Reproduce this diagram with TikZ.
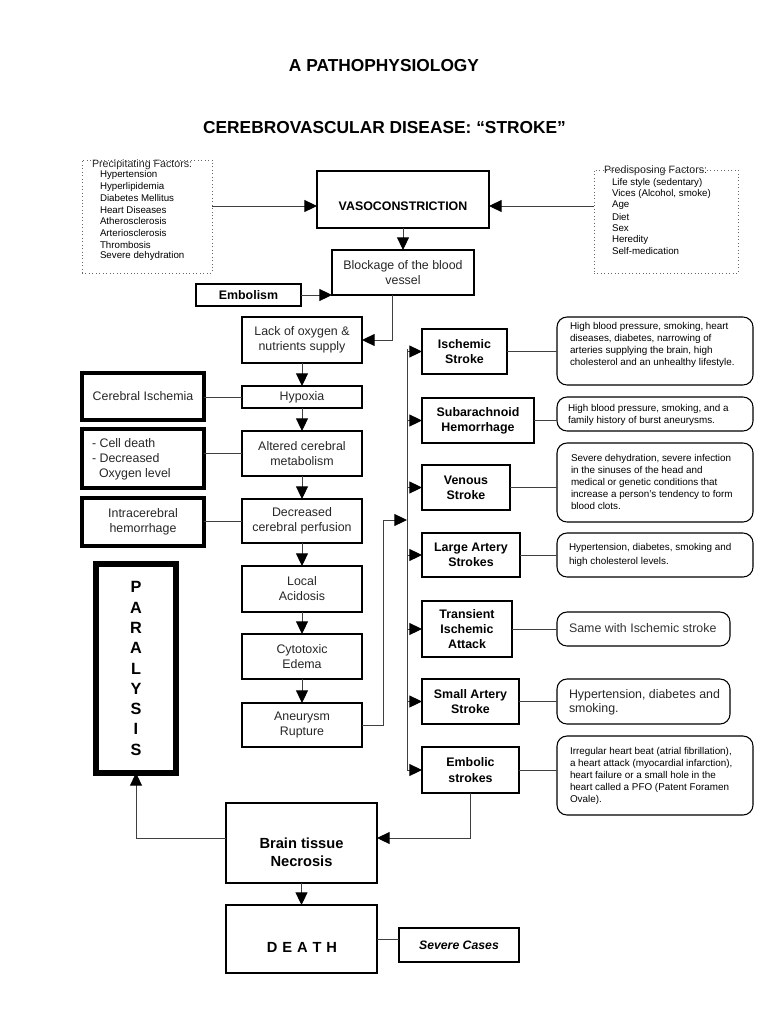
\documentclass[tikz,border=0pt]{standalone}
\usepackage{fontspec}
\setmainfont{Liberation Sans}
\usetikzlibrary{arrows.meta}
\newcommand{\ftitle}{\fontsize{13}{15}\bfseries\selectfont}
\newcommand{\fmainx}{\fontsize{9.3}{11.2}\selectfont}
\newcommand{\fboldx}{\fontsize{9.3}{11.4}\bfseries\selectfont}
\newcommand{\fsmallx}{\fontsize{7.4}{9}\selectfont}
\newcommand{\flistx}{\fontsize{7.3}{8.7}\selectfont}
\newcommand{\flisthx}{\fontsize{8}{9}\selectfont}
\begin{document}
\begin{tikzpicture}[x=0.75pt,y=-0.75pt,
  every node/.style={inner sep=0pt, outer sep=0pt},
  sz/.style 2 args={minimum width=#1*0.75pt, minimum height=#2*0.75pt},
  title/.style={font=\ftitle},
  mbox/.style={draw=black, line width=0.8pt, align=center, font=\fmainx, text=black!85},
  sbox/.style={draw=black, line width=1pt, align=center, font=\fboldx},
  thick box/.style={draw=black, line width=2.3pt, align=center, font=\fmainx, text=black!85},
  heavy box/.style={draw=black, line width=1.9pt, align=center, font=\fboldx},
  dbox/.style={draw=black, line width=0.8pt, rounded corners=7.5pt},
  dtext/.style={align=left, font=\fsmallx, text=black},
  dotbox/.style={draw=black!60, dotted, line width=0.6pt},
  list/.style={font=\flistx, text=black},
  listh/.style={font=\flisthx, text=black!85},
  ln/.style={draw=black!75, line width=0.75pt},
  arr/.style={draw=black!75, line width=0.75pt, -{Triangle[length=9.5pt,width=9pt,color=black]}}
]
\useasboundingbox (0,0) rectangle (768,1024);

% titles
\node[title] (t1) at (384,66) {A PATHOPHYSIOLOGY};
\node[title] (t2) at (384.5,128) {CEREBROVASCULAR DISEASE: “STROKE”};

% factor boxes
\node[dotbox, sz={130}{113}] (pre) at (147,216.5) {};
\node[listh, anchor=west] (preH) at (92,165) {Precipitating Factors:};
\foreach \t [count=\i] in {Hypertension, Hyperlipidemia, Diabetes Mellitus, Heart Diseases, Atherosclerosis, Arteriosclerosis, Thrombosis, Severe dehydration}
  \node[list, anchor=west] (pre\i) at (100,{175+(\i-1)*11.6}) {\t};

\node[dotbox, sz={144}{103}] (pred) at (666,221.5) {};
\node[listh, anchor=west] (predH) at (604,171) {Predisposing Factors:};
\foreach \t [count=\i] in {Life style (sedentary), {Vices (Alcohol, smoke)}, Age, Diet, Sex, Heredity, Self-medication}
  \node[list, anchor=west] (pred\i) at (612,{182.5+(\i-1)*11.4}) {\t};

% vasoconstriction
\node[draw=black, line width=1.2pt, sz={172}{57}] (vaso) at (403,199.5) {};
\node[font=\fboldx] (vasoT) at (403,206) {VASOCONSTRICTION};
\coordinate (aV) at (0,206);
\draw[arr] (pre.east |- aV) -- (vaso.west |- aV);
\draw[arr] (pred.west |- aV) -- (vaso.east |- aV);

% main column
\node[mbox, sz={142}{45}] (block) at (403,272.5) {Blockage of the blood\\vessel};
\node[draw=black, line width=1.2pt, sz={105}{22}, font=\fboldx] (emb) at (248.5,295) {Embolism};
\node[mbox, sz={120}{46}] (lack) at (302,340) {Lack of oxygen \&\\nutrients supply};
\node[mbox, sz={120}{22}] (hyp) at (302,397) {Hypoxia};
\node[mbox, sz={120}{45}] (alt) at (302,453.5) {Altered cerebral\\metabolism};
\node[mbox, sz={120}{44}] (dec) at (302,521) {Decreased\\cerebral perfusion};
\node[mbox, sz={120}{46}] (loc) at (302,589) {Local\\Acidosis};
\node[mbox, sz={120}{45}] (cyt) at (302,656.5) {Cytotoxic\\Edema};
\node[mbox, sz={120}{44}] (ane) at (302,725) {Aneurysm\\Rupture};

\draw[arr] (vaso.south) -- (block.north);
\draw[arr] (emb.east) -- (emb.east -| block.west);
\coordinate (bl) at (392,295);
\draw[arr] (block.south -| bl) |- (lack.east);
\draw[arr] (lack) -- (hyp);
\draw[arr] (hyp) -- (alt);
\draw[arr] (alt) -- (dec);
\draw[arr] (dec) -- (loc);
\draw[arr] (loc) -- (cyt);
\draw[arr] (cyt) -- (ane);

% left boxes
\node[thick box, sz={122}{47}] (cis) at (143,396.5) {Cerebral Ischemia};
\node[thick box, sz={122}{59}] (cell) at (143,458.5) {};
\node[anchor=west, align=left, font=\fmainx, text=black!85] (cellT) at (92,459) {- Cell death\\- Decreased\\\hspace*{5.3pt}Oxygen level};
\node[thick box, sz={122}{48}] (ich) at (143,522) {Intracerebral\\hemorrhage};
\draw[ln] (hyp.west) -- (hyp.west -| cis.east);
\draw[ln] (alt.west) -- (alt.west -| cell.east);
\draw[ln] (dec.west) -- (dec.west -| ich.east);

\node[draw=black, line width=3.8pt, sz={80}{209}, align=center, font=\fontsize{12.2}{15.2}\bfseries\selectfont] (par) at (136,668.5) {P\\A\\R\\A\\L\\Y\\S\\I\\S};

% stroke boxes
\node[sbox, sz={85}{45}] (isc) at (464.5,351.5) {Ischemic\\Stroke};
\node[sbox, sz={112}{45}] (sub) at (478,420.5) {Subarachnoid\\Hemorrhage};
\node[sbox, sz={88}{45}] (ven) at (466,487.5) {Venous\\Stroke};
\node[sbox, sz={98}{44}] (lar) at (471,555) {Large Artery\\Strokes};
\node[sbox, sz={90}{56}] (tra) at (467,629) {Transient\\Ischemic\\Attack};
\node[sbox, sz={97}{45}] (sma) at (470.5,701.5) {Small Artery\\Stroke};
\node[sbox, sz={97}{46}] (emo) at (470.5,770) {Embolic\\strokes};

% bus
\coordinate (busT) at (407,349);
\coordinate (busB) at (407,770);
\draw[ln] (busT) -- (busB);
\foreach \n in {isc,sub,ven,lar,tra,sma,emo}
  \draw[arr] (busT |- \n.west) -- (\n.west);
\coordinate (aj) at (383,520);
\draw[arr] (ane.east) -| (aj) -- (aj -| busT);

% description boxes
\node[dbox, sz={196}{68}] (d1) at (655,351) {};
\node[dtext, anchor=west] (d1T) at (570,345) {High blood pressure, smoking, heart\\diseases, diabetes, narrowing of\\arteries supplying the brain, high\\cholesterol and an unhealthy lifestyle.};
\node[dbox, sz={196}{34}] (d2) at (655,414) {};
\node[dtext, anchor=west] (d2T) at (568,415) {High blood pressure, smoking, and a\\family history of burst aneurysms.};
\node[dbox, sz={196}{79}] (d3) at (655,482.5) {};
\node[dtext, anchor=west] (d3T) at (571,482) {Severe dehydration, severe infection\\in the sinuses of the head and\\medical or genetic conditions that\\increase a person’s tendency to form\\blood clots.};
\node[dbox, sz={196}{44}] (d4) at (655,555) {};
\node[dtext, anchor=west, font=\fontsize{7.4}{10.2}\selectfont] (d4T) at (569,555) {Hypertension, diabetes, smoking and\\high cholesterol levels.};
\node[dbox, sz={173}{34}] (d5) at (643.5,629) {};
\node[anchor=west, font=\fmainx, text=black!80] (d5T) at (569,628.5) {Same with Ischemic stroke};
\node[dbox, sz={173}{45}] (d6) at (643.5,701.5) {};
\node[anchor=west, align=left, font=\fontsize{9.3}{10.5}\selectfont, text=black!85] (d6T) at (569,702) {Hypertension, diabetes and\\smoking.};
\node[dbox, sz={196}{79}] (d7) at (655,775.5) {};
\node[dtext, anchor=west] (d7T) at (570,776) {Irregular heart beat (atrial fibrillation),\\a heart attack (myocardial infarction),\\heart failure or a small hole in the\\heart called a PFO (Patent Foramen\\Ovale).};

\draw[ln] (isc.east) -- (isc.east -| d1.west);
\draw[ln] (sub.east) -- (sub.east -| d2.west);
\draw[ln] (ven.east) -- (ven.east -| d3.west);
\draw[ln] (lar.east) -- (lar.east -| d4.west);
\draw[ln] (tra.east) -- (tra.east -| d5.west);
\draw[ln] (sma.east) -- (sma.east -| d6.west);
\draw[ln] (emo.east) -- (emo.east -| d7.west);

% bottom
\node[heavy box, sz={151}{80}] (brain) at (301.5,843) {};
\node[align=center, font=\fontsize{11}{13.5}\bfseries\selectfont] (brainT) at (301.5,852) {Brain tissue\\Necrosis};
\node[heavy box, sz={151}{68}] (death) at (301.5,939) {};
\node[font=\fontsize{11}{13}\bfseries\selectfont] (deathT) at (302,947) {D\,\,E\,\,A\,\,T\,\,H};
\node[draw=black, line width=0.8pt, sz={120}{34}, font=\fontsize{9.2}{11}\bfseries\itshape\selectfont] (sev) at (459,945) {Severe Cases};

\coordinate (yb) at (0,838);
\draw[arr] (brain.west |- yb) -| (par.south);
\draw[arr] (emo.south) |- (brain.east |- yb);
\draw[arr] (brain.south) -- (death.north);
\draw[ln] (death.east) -- (death.east -| sev.west);
\end{tikzpicture}
\end{document}
